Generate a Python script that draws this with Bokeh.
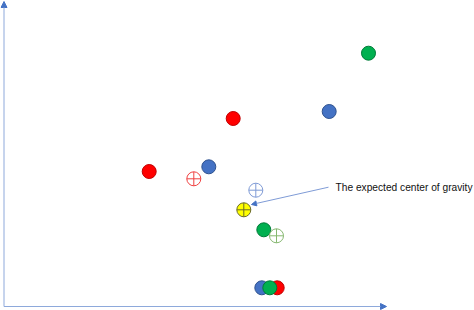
from bokeh.plotting import figure
from bokeh.models import Range1d, Arrow, NormalHead, Label
from bokeh.embed import file_html
from bokeh.resources import INLINE

# Filled points (x, y) per group
blue_x = [328.7, 208.3, 261.3]
blue_y = [199.0, 143.7, 22.7]
red_x = [232.7, 148.7, 276.7]
red_y = [192.0, 139.0, 22.7]
green_x = [368.0, 263.3, 269.3]
green_y = [257.3, 80.7, 22.7]

# Group centres (crosshair markers)
center_x = [193.3, 255.3, 276.0]
center_y = [131.7, 120.3, 74.7]
center_colors = ["#F04040", "#7F9BD6", "#86B870"]

# Expected centre of gravity
cog_x = [243.3]
cog_y = [100.7]

label_text = "The expected center of gravity"

p = figure(width=474, height=310, output_backend="svg", toolbar_location=None,
           x_range=Range1d(0, 474), y_range=Range1d(0, 310), min_border=0)
p.axis.visible = False
p.grid.visible = False
p.outline_line_color = None
p.background_fill_color = "white"

axis_color = "#8EA9DB"
p.add_layout(Arrow(end=NormalHead(size=6, fill_color="#4472C4", line_color="#4472C4"),
                   x_start=3.5, y_start=4, x_end=3.5, y_end=309,
                   line_color=axis_color, line_width=1))
p.add_layout(Arrow(end=NormalHead(size=6, fill_color="#4472C4", line_color="#4472C4"),
                   x_start=3.5, y_start=4, x_end=386, y_end=4,
                   line_color=axis_color, line_width=1))

p.scatter(blue_x, blue_y, size=14, marker="circle", fill_color="#4472C4", line_color="#2F528F", line_width=1)
p.scatter(red_x, red_y, size=14, marker="circle", fill_color="#FF0000", line_color="#C00000", line_width=1)
p.scatter(green_x, green_y, size=14, marker="circle", fill_color="#00B050", line_color="#007A38", line_width=1)

p.scatter(center_x, center_y, size=14, marker="circle_cross", fill_color="white",
          line_color=center_colors, line_width=1)
p.scatter(cog_x, cog_y, size=14, marker="circle_cross", fill_color="#FFFF00",
          line_color="#6B6B2A", line_width=1)

p.add_layout(Arrow(end=NormalHead(size=5, fill_color="#4472C4", line_color="#4472C4"),
                   x_start=328, y_start=123.3, x_end=251, y_end=106,
                   line_color="#7F9BD6", line_width=1))
p.add_layout(Label(x=335, y=123.3, text=label_text, text_font="Liberation Sans",
                   text_font_size="10.2px", text_baseline="middle", text_color="#111111"))

open("out.html", "w").write(file_html(p, INLINE))
